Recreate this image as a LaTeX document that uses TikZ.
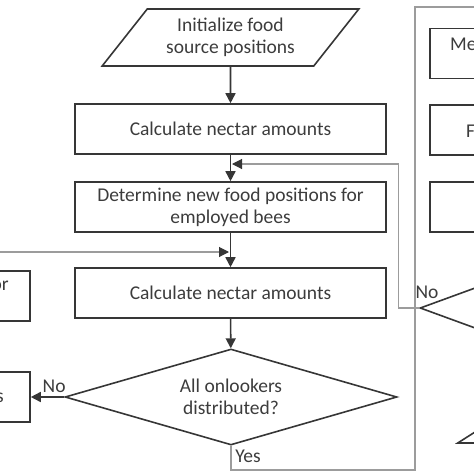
\documentclass[tikz,border=0pt]{standalone}
\usepackage{fontspec}
\setmainfont{Carlito}
\usetikzlibrary{shapes.geometric,arrows.meta}
\definecolor{boxline}{HTML}{363636}
\definecolor{loopline}{HTML}{9C9C9C}
\definecolor{txt}{HTML}{3C3C3C}
\begin{document}
\begin{tikzpicture}[x=1pt,y=-1pt,every node/.style={font=\fontsize{19.5}{22}\selectfont,text=txt}]
    \tikzstyle{box}=[rectangle,draw=boxline,line width=1.6pt,minimum width=311pt,minimum height=50pt,align=center,inner sep=2pt]
    \tikzstyle{io}=[trapezium,trapezium left angle=48,trapezium right angle=132,trapezium stretches=true,draw=boxline,line width=1.6pt,minimum width=257pt,minimum height=57pt,align=center,inner sep=0pt]
    \tikzstyle{dec}=[diamond,draw=boxline,line width=1.6pt,aspect=3.4,inner sep=0pt,align=center]
    \tikzstyle{frag}=[inner sep=0pt]
    \tikzstyle{arr}=[-{Triangle[length=10pt,width=10pt,color=boxline]}]
    \tikzstyle{flow}=[draw=boxline,line width=1.6pt]
    \tikzstyle{loop}=[draw=loopline,line width=1.1pt]
    \useasboundingbox (0,0) rectangle (474,474);
    \clip (0,0) rectangle (474,474);

      % main column
      \node (init) at (230.5,37.5) [io] {Initialize food\\source positions};
      \node (calc1) at (230.5,129) [box] {Calculate nectar amounts};
      \node (newpos) at (230.5,207) [box] {Determine new food positions for\\employed bees};
      \node (calc2) at (230.5,293) [box] {Calculate nectar amounts};
      \node (alldist) at (231,397) [dec,minimum width=332pt,minimum height=96pt] {All onlookers\\distributed?};

      % cut-off boxes on the left
      \node (lbox1) at (-125.5,296) [box] {};
      \node (lbox2) at (-125.5,397) [box] {};
      \node (lfrag1) at (9,290) [frag,anchor=base east] {or};
      \node (lfrag2) at (4,402) [frag,anchor=base east] {s};

      % cut-off shapes on the right
      \node (rbox1) at (585.5,53.5) [box] {};
      \node (rbox2) at (585.5,130) [box] {};
      \node (rbox3) at (585.5,207) [box] {};
      \node (rfrag1) at (450,50) [frag,anchor=base west] {Me};
      \node (rfrag2) at (466,137) [frag,anchor=base west] {F};
      \node (rdec) at (570,308) [dec,minimum width=300pt,minimum height=110pt] {\strut};
      \node (rout) at (585.5,414.5) [io] {\hphantom{xx}\strut};

      \coordinate (join1) at (232,164);
      \coordinate (join2) at (229,252);
      \coordinate (leftin) at (-10,252);
      \coordinate (yesout) at (490,7);

      \path[flow,arr] (init) -- (calc1);
      \path[flow,arr] (calc1) -- (newpos);
      \path[flow,arr] (newpos) -- (calc2);
      \path[flow,arr] (calc2) -- (alldist);
      \path[flow,arr] (alldist.west) -- node[above,pos=0.3] (nol) {No} (lbox2.east);

      \path[loop,arr] (rdec.west) -- ++(-21,0) |- (join1);
      \path[loop,arr] (leftin) -- (join2);
      \path[loop] (alldist.south) |- (415,470) |- (yesout);
      \node (nor) at (427,292) {No};
      \node (yes) at (248,456) {Yes};
  \end{tikzpicture}
\end{document}
